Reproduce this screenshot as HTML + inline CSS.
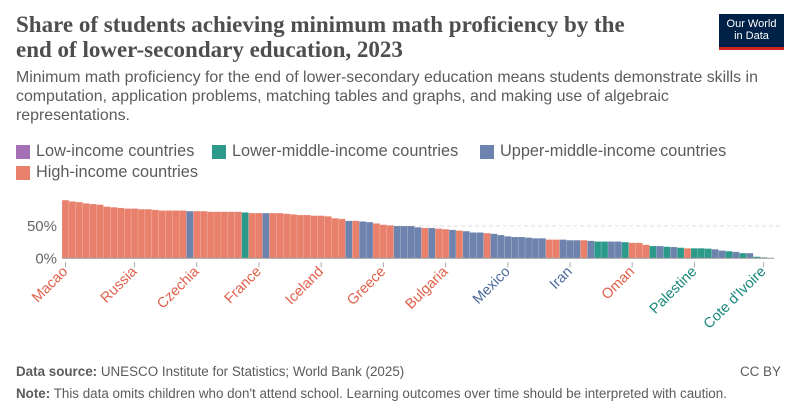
<!DOCTYPE html>
<html><head><meta charset="utf-8"><style>
body{margin:0;width:800px;height:418px;background:#fff;font-family:"Liberation Sans",sans-serif;overflow:hidden;position:relative}
.t{position:absolute;left:16px;top:12px;font-family:"Liberation Serif",serif;font-weight:bold;font-size:23px;line-height:25px;color:#4e4e4e;width:690px;white-space:nowrap}
.s{position:absolute;left:16px;top:68px;font-size:15.9px;line-height:19px;color:#5b5b5b;width:775px;white-space:nowrap}
.logo{position:absolute;left:719px;top:14px;width:65px;height:36px;background:#002147;color:#fff;font-size:11px;line-height:12px;text-align:center;padding-top:4px;box-sizing:border-box;border-bottom:3px solid #ce261e}
.lg{position:absolute;font-size:16.3px;color:#5b5b5b;display:flex;align-items:center}
.lg i{display:inline-block;width:14px;height:14px;margin-right:6px}
.f{position:absolute;left:16px;font-size:13.4px;color:#5b5b5b}
</style></head><body>
<div class="t">Share of students achieving minimum math proficiency by the<br>end of lower-secondary education, 2023</div>
<div class="logo">Our World<br>in Data</div>
<div class="s">Minimum math proficiency for the end of lower-secondary education means students demonstrate skills in<br>computation, application problems, matching tables and graphs, and making use of algebraic<br>representations.</div>
<div class="lg" style="left:16px;top:142px"><i style="background:#a46fb5"></i>Low-income countries</div>
<div class="lg" style="left:212px;top:142px"><i style="background:#2c9a8b"></i>Lower-middle-income countries</div>
<div class="lg" style="left:480px;top:142px"><i style="background:#6d83ad"></i>Upper-middle-income countries</div>
<div class="lg" style="left:16px;top:163px"><i style="background:#e8806c"></i>High-income countries</div>
<svg id="ch" width="800" height="418" style="position:absolute;left:0;top:0"></svg>
<div class="f" style="top:364px"><b>Data source:</b> UNESCO Institute for Statistics; World Bank (2025)</div>
<div class="f" style="top:364px;left:740px">CC BY</div>
<div class="f" style="top:386px"><b>Note:</b> This data omits children who don't attend school. Learning outcomes over time should be interpreted with caution.</div>
<script>
const groups=["H","H","H","H","H","H","H","H","H","H","H","H","H","H","H","H","H","H","U","H","H","H","H","H","H","H","L","H","H","U","H","H","H","H","H","H","H","H","H","H","H","U","H","U","U","H","H","H","U","U","U","U","H","U","H","H","U","H","U","U","U","H","U","U","U","U","U","U","U","U","H","H","U","U","U","H","U","L","L","U","U","L","H","H","H","L","U","L","U","L","H","L","L","L","U","U","L","U","L","U","L","L"];
const values=[90,88,87,85,84,83,80,79,78,77,77,76,76,75,74,74,74,74,73,73,73,72,72,72,72,72,71,70,70,70,70,70,69,68,67,67,66,66,65,62,61,58,58,57,56,54,52,51,50,50,50,48,47,47,46,45,44,43,42,40,40,39,38,36,34,33,33,32,31,31,29,29,29,28,28,28,27,26,26,26,26,25,24,24,21,19,19,18,17.5,16.5,15.5,15.5,15.5,15,14,12,11,10,8,8,2.5,1.5];
const labelIdx=[0,10,19,28,37,46,55,64,73,82,91,101];
const labelText=["Macao","Russia","Czechia","France","Iceland","Greece","Bulgaria","Mexico","Iran","Oman","Palestine","Cote d'Ivoire"];
const yTicks=[0,50];
const fill={H:"#e8806c",U:"#6d83ad",L:"#2c9a8b",P:"#a46fb5"};
const lab={H:"#e0604a",U:"#4c6a9c",L:"#18877a",P:"#8a4fa0"};
const svg=document.getElementById('ch'),NS="http://www.w3.org/2000/svg";
const x0=62,x1=767,base=258.3,bw=(x1-x0)/values.length;
const y=v=>base-v*0.646;
function mk(t,a){const e=document.createElementNS(NS,t);for(const k in a)e.setAttribute(k,a[k]);svg.appendChild(e);return e;}
yTicks.forEach(v=>{
 if(v>0){const g=mk('line',{x1:x0,x2:782,y1:y(v),y2:y(v),stroke:'#ddd','stroke-dasharray':'4,3'});
 
 }
 const t=mk('text',{x:57,y:y(v)+5,'text-anchor':'end','font-size':'15',fill:'#666'});t.textContent=v+'%';
 
 
});
values.forEach((v,i)=>{
 const r=mk('rect',{x:x0+i*bw,y:y(v),width:bw,height:base-y(v),fill:fill[groups[i]],stroke:'rgba(255,255,255,0.25)','stroke-width':0.5});
 
 
});
mk('line',{x1:x0,x2:x1+7,y1:base,y2:base,stroke:'#999','stroke-width':1});
labelIdx.forEach((idx,j)=>{
 const cx=x0+(idx+0.5)*bw;
 const tk=mk('line',{x1:cx,x2:cx,y1:base+4,y2:base+9,stroke:'#aaa'});
 
 
 const t=mk('text',{x:cx+3,y:base+14,'text-anchor':'end','font-size':'14.5',fill:lab[groups[idx]],transform:`rotate(-45 ${cx+3} ${base+14})`});
 t.textContent=labelText[j];
 
 
});
</script>
</body></html>
